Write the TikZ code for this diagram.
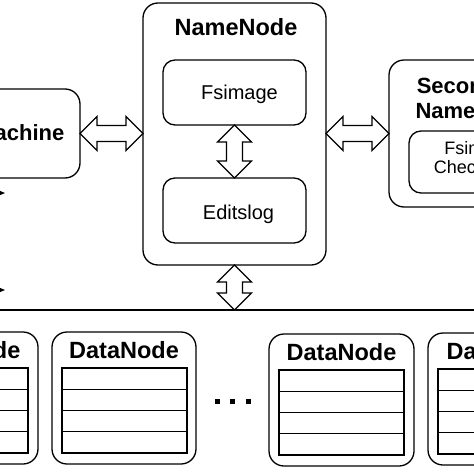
\documentclass[tikz,border=0pt]{standalone}
\usepackage{fontspec}
\setmainfont{Liberation Sans}
\usetikzlibrary{calc}
\newcommand{\hollowH}[2]{%
  \draw[hollow] let \p1=(#1), \p2=(#2) in
    (\x1,\y1) -- (\x1+17pt,\y1+17pt) -- (\x1+17pt,\y1+8pt) -- (\x2-17pt,\y1+8pt)
    -- (\x2-17pt,\y1+17pt) -- (\x2,\y1) -- (\x2-17pt,\y1-17pt) -- (\x2-17pt,\y1-8pt)
    -- (\x1+17pt,\y1-8pt) -- (\x1+17pt,\y1-17pt) -- cycle;}
\newcommand{\hollowV}[2]{%
  \draw[hollow] let \p1=(#1), \p2=(#2) in
    (\x1,\y1) -- (\x1+17pt,\y1-17pt) -- (\x1+8pt,\y1-17pt) -- (\x1+8pt,\y2+17pt)
    -- (\x1+17pt,\y2+17pt) -- (\x1,\y2) -- (\x1-17pt,\y2+17pt) -- (\x1-8pt,\y2+17pt)
    -- (\x1-8pt,\y1-17pt) -- (\x1-17pt,\y1-17pt) -- cycle;}
\newcommand{\blocktable}[2]{%
  \draw[tbl] (#1,#2) rectangle ++(125,85);
  \foreach \k in {1,2,3}{\draw[tbl] (#1,#2+\k*21.25) -- ++(125,0);}}
\begin{document}
\begin{tikzpicture}[x=1pt,y=-1pt,line width=1.3pt,
  box/.style={draw,rounded corners=15pt,inner sep=0pt,outer sep=0pt},
  ibox/.style={draw,rounded corners=12pt,inner sep=0pt,outer sep=0pt},
  title/.style={font=\bfseries\fontsize{23.5}{26}\selectfont,inner sep=0pt},
  stitle/.style={font=\bfseries\fontsize{22}{25}\selectfont,inner sep=0pt,align=center},
  lbl/.style={font=\fontsize{20}{22}\selectfont,inner sep=0pt},
  slbl/.style={font=\fontsize{18}{18.5}\selectfont,inner sep=0pt,align=center},
  hollow/.style={draw,fill=white,line join=miter,line width=1.2pt},
  tbl/.style={line width=1.2pt}]
\useasboundingbox (0,0) rectangle (474,474);
\clip (0,0) rectangle (474,474);
\fill[white] (0,0) rectangle (474,474);

% NameNode
\node[box,minimum width=183pt,minimum height=262pt] (nn) at (234.5,134) {};
\node[title,anchor=base] (nnt) at (236,35) {NameNode};
\node[ibox,minimum width=143pt,minimum height=65pt] (fs) at (234.5,92.5) {};
\node[lbl,anchor=base] (fst) at (239.5,99) {Fsimage};
\node[ibox,minimum width=143pt,minimum height=65pt] (ed) at (234.5,210.5) {};
\node[lbl,anchor=base] (edt) at (238.5,219) {Editslog};

% Machine
\node[box,minimum width=140pt,minimum height=89pt] (mach) at (10,133.5) {};
\node[stitle,anchor=base east] (macht) at (65,140) {Machine};

% Secondary NameNode
\node[box,minimum width=170pt,minimum height=147pt] (snn) at (474,133.5) {};
\node[stitle,anchor=base] (snnt) at (473,118) {Secondary\\NameNode};
\node[ibox,minimum width=130pt,minimum height=62pt] (ck) at (474,162) {};
\node[slbl,anchor=base] (ckt) at (479,173) {Fsimage\\Checkpoint};

% arrows
\coordinate (nnw) at (nn.west |- mach.east);
\coordinate (nne) at (nn.east |- snn.west);
\hollowH{mach.east}{nnw}
\hollowH{nne}{snn.west}
\hollowV{fs.south}{ed.north}
\coordinate (busL) at (0,310);
\coordinate (busR) at (474,310);
\draw[line width=1.2pt] (busL) -- (busR);
\coordinate (nnbus) at (nn.south |- busL);
\hollowV{nn.south}{nnbus}

% left fragments
\coordinate (fragA) at (5,193);
\coordinate (fragB) at (5,290);
\fill (fragA) -- ++(-6,-2.5) -- ++(0,5) -- cycle;
\fill (fragB) -- ++(-6,-2.5) -- ++(0,5) -- cycle;

% DataNodes
\node[box,minimum width=144pt,minimum height=132pt] (dn1) at (-34,398) {};
\node[title,anchor=base] (dn1t) at (-34.5,358) {DataNode};
\blocktable{-97}{368}
\node[box,minimum width=144pt,minimum height=132pt] (dn2) at (124,398) {};
\node[title,anchor=base] (dn2t) at (124,358) {DataNode};
\blocktable{62}{368}
\node[box,minimum width=145pt,minimum height=132pt] (dn3) at (341.5,400) {};
\node[title,anchor=base] (dn3t) at (341.5,360) {DataNode};
\blocktable{279}{370}
\node[box,minimum width=144pt,minimum height=132pt] (dn4) at (500,399) {};
\node[title,anchor=base] (dn4t) at (501.5,359) {DataNode};
\blocktable{438}{369}

% dots
\foreach \dx in {217,232.5,248}{\fill (\dx-2.5,398.5) rectangle ++(5,5);}
\end{tikzpicture}
\end{document}
